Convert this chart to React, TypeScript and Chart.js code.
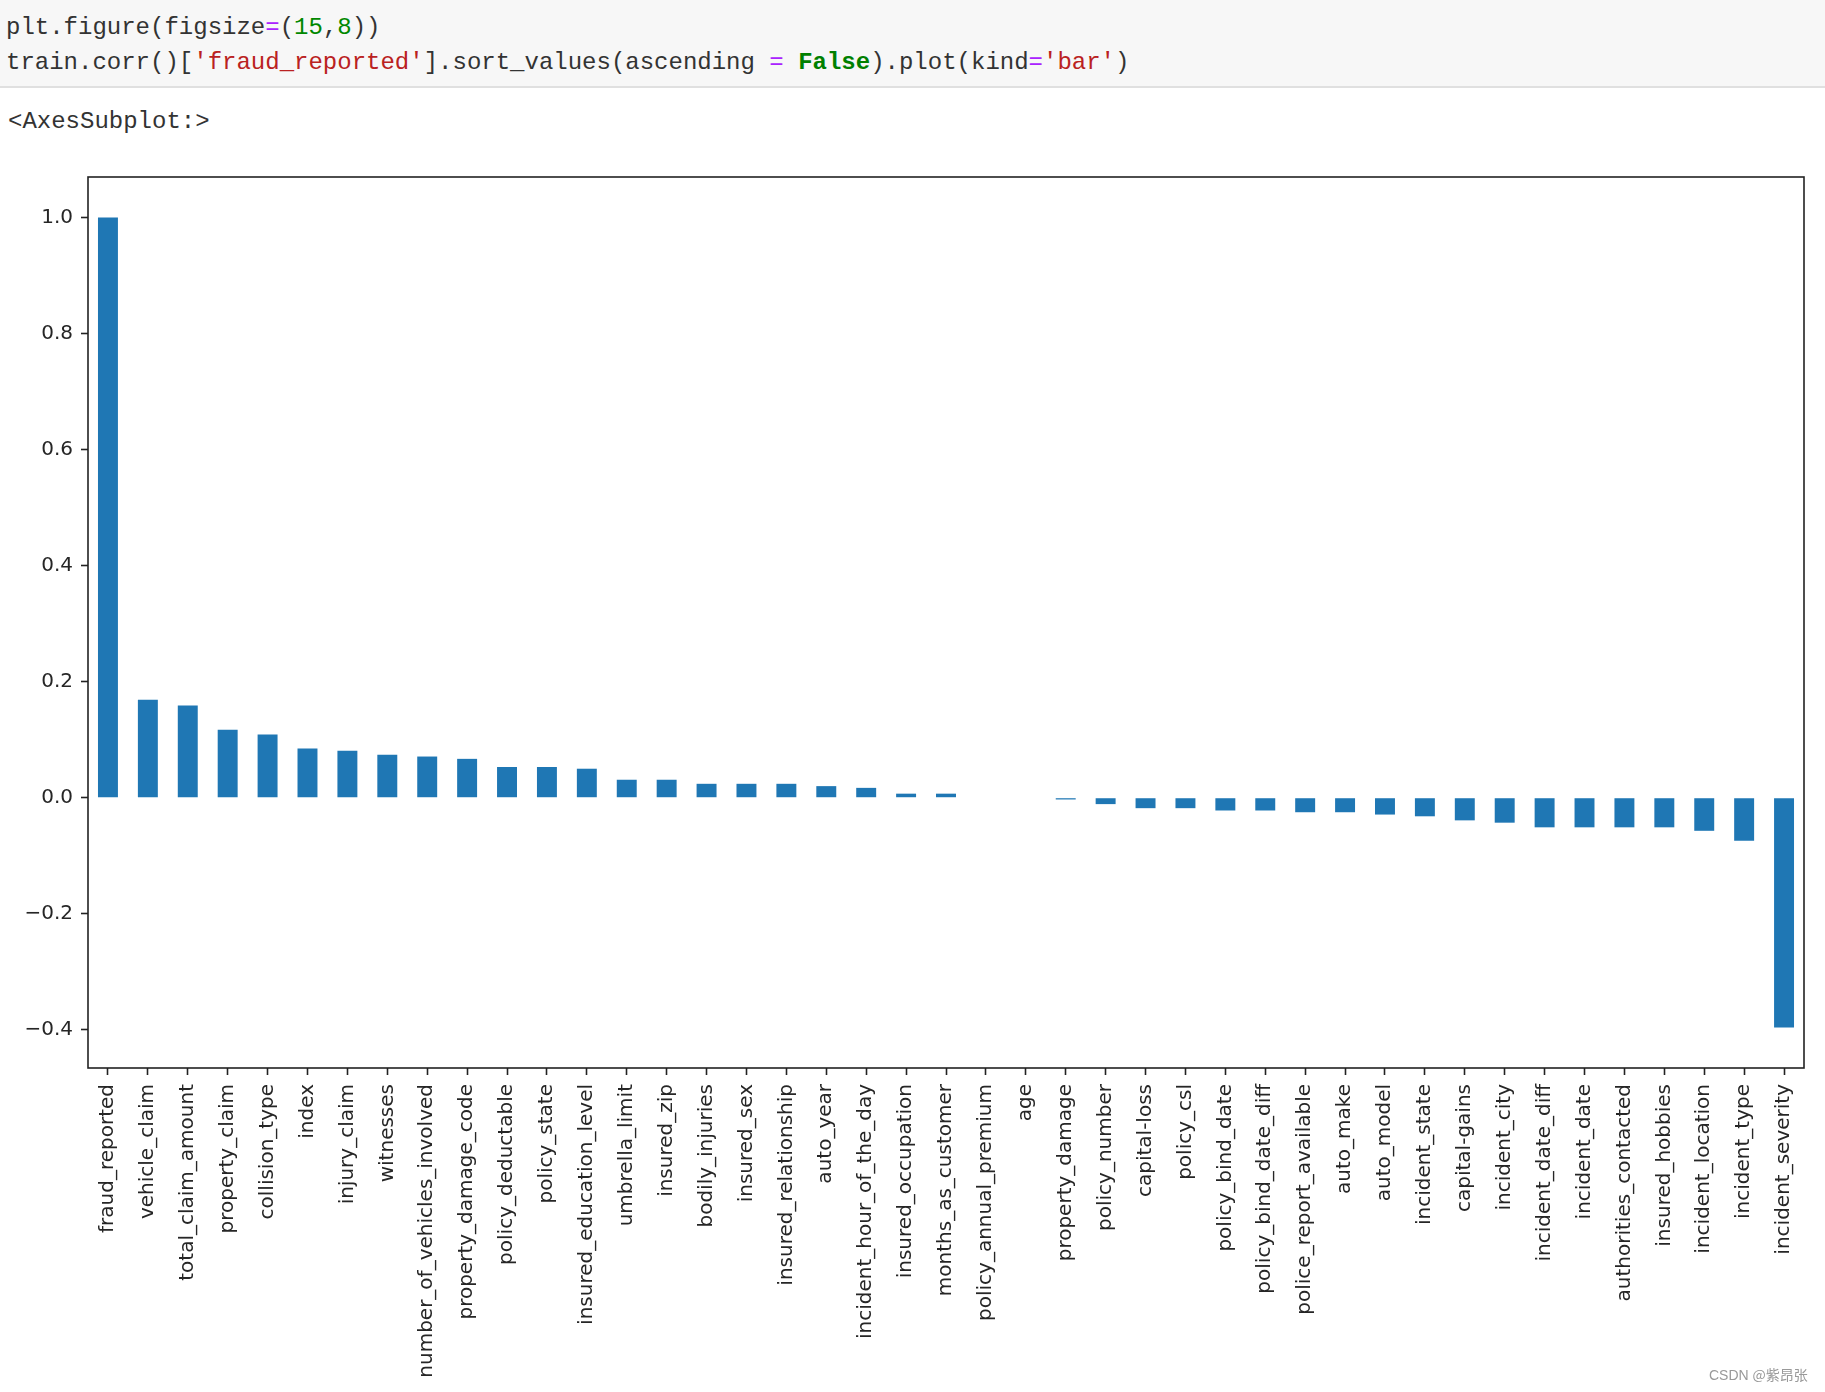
import React, { useEffect, useRef } from "react";
import { Chart, registerables } from "chart.js";

Chart.register(...registerables);

const categories: string[] = [
  "fraud_reported", "vehicle_claim", "total_claim_amount", "property_claim", "collision_type",
  "index", "injury_claim", "witnesses", "number_of_vehicles_involved", "property_damage_code",
  "policy_deductable", "policy_state", "insured_education_level", "umbrella_limit", "insured_zip",
  "bodily_injuries", "insured_sex", "insured_relationship", "auto_year", "incident_hour_of_the_day",
  "insured_occupation", "months_as_customer", "policy_annual_premium", "age", "property_damage",
  "policy_number", "capital-loss", "policy_csl", "policy_bind_date", "policy_bind_date_diff",
  "police_report_available", "auto_make", "auto_model", "incident_state", "capital-gains",
  "incident_city", "incident_date_diff", "incident_date", "authorities_contacted", "insured_hobbies",
  "incident_location", "incident_type", "incident_severity",
];

const correlations: number[] = [
  1.0, 0.169, 0.159, 0.117, 0.109,
  0.085, 0.081, 0.074, 0.071, 0.067,
  0.053, 0.053, 0.05, 0.031, 0.031,
  0.024, 0.024, 0.024, 0.02, 0.017,
  0.007, 0.007, 0.0, 0.0, -0.003,
  -0.011, -0.018, -0.018, -0.022, -0.022,
  -0.025, -0.025, -0.029, -0.032, -0.039,
  -0.043, -0.051, -0.051, -0.051, -0.051,
  -0.057, -0.074, -0.396,
];

const yTickValues: number[] = [-0.4, -0.2, 0.0, 0.2, 0.4, 0.6, 0.8, 1.0];
const yTickLabels: string[] = ["\u22120.4", "\u22120.2", "0.0", "0.2", "0.4", "0.6", "0.8", "1.0"];

const BAR_COLOR = "#1f77b4";
const SPINE_COLOR = "#222";

const boxPlugin = {
  id: "boxPlugin",
  afterDraw(chart: any) {
    const { ctx, chartArea } = chart;
    ctx.save();
    ctx.strokeStyle = SPINE_COLOR;
    ctx.lineWidth = 1.6;
    ctx.strokeRect(chartArea.left, chartArea.top, chartArea.right - chartArea.left, chartArea.bottom - chartArea.top);
    ctx.restore();
  },
};

function BarChart() {
  const ref = useRef<HTMLCanvasElement | null>(null);
  useEffect(() => {
    if (!ref.current) return;
    const dMin = Math.min(...correlations);
    const dMax = Math.max(...correlations);
    const margin = (dMax - dMin) * 0.05;
    const chart = new Chart(ref.current, {
      type: "bar",
      data: {
        labels: categories,
        datasets: [
          {
            data: correlations,
            backgroundColor: BAR_COLOR,
            borderWidth: 0,
            barPercentage: 0.5,
            categoryPercentage: 1.0,
          },
        ],
      },
      options: {
        animation: false,
        responsive: false,
        maintainAspectRatio: false,
        plugins: { legend: { display: false }, tooltip: { enabled: false }, title: { display: false } },
        layout: { padding: { top: 37, right: 21, left: 0, bottom: 0 } },
        scales: {
          x: {
            type: "category",
            offset: true,
            border: { display: false },
            grid: {
              display: true,
              offset: false,
              drawOnChartArea: false,
              drawTicks: true,
              tickLength: 7,
              tickWidth: 1.6,
              tickColor: SPINE_COLOR,
              color: SPINE_COLOR,
            },
            ticks: {
              autoSkip: false,
              maxRotation: 90,
              minRotation: 90,
              padding: 9,
              color: "#262626",
              font: { family: "DejaVu Sans", size: 20 },
            },
            afterFit(scale: any) {
              scale.height = 324;
            },
          },
          y: {
            type: "linear",
            min: dMin - margin,
            max: dMax + margin,
            border: { display: false },
            grid: {
              display: true,
              drawOnChartArea: false,
              drawTicks: true,
              tickLength: 7,
              tickWidth: 1.6,
              tickColor: SPINE_COLOR,
              color: SPINE_COLOR,
            },
            afterBuildTicks(scale: any) {
              scale.ticks = yTickValues.map((v) => ({ value: v }));
            },
            ticks: {
              padding: 8,
              color: "#262626",
              font: { family: "DejaVu Sans", size: 20 },
              callback: (_v: any, i: number) => yTickLabels[i],
            },
            afterFit(scale: any) {
              scale.width = 88;
            },
          },
        },
      },
      plugins: [boxPlugin],
    });
    return () => chart.destroy();
  }, []);
  return <canvas ref={ref} width={1825} height={1252} style={{ width: 1825, height: 1252, display: "block" }} />;
}

export default function App() {
  const mono = { fontFamily: "'Liberation Mono', 'DejaVu Sans Mono', monospace", fontSize: 24 } as const;
  return (
    <div style={{ position: "absolute", left: 0, top: 0, width: 1825, height: 1392, background: "#fff", overflow: "hidden" }}>
      <div
        style={{
          position: "absolute",
          left: 0,
          top: 0,
          width: 1825,
          height: 88,
          background: "#f7f7f7",
          borderBottom: "2px solid #e0e0e0",
          boxSizing: "border-box",
        }}
      >
        <div style={{ ...mono, position: "absolute", left: 6, top: 10, lineHeight: "35px", color: "#333", whiteSpace: "pre" }}>
          <div>
            plt.figure(figsize<span style={{ color: "#aa22ff" }}>=</span>(<span style={{ color: "#080" }}>15</span>,<span style={{ color: "#080" }}>8</span>))
          </div>
          <div>
            train.corr()[<span style={{ color: "#ba2121" }}>'fraud_reported'</span>].sort_values(ascending <span style={{ color: "#aa22ff" }}>=</span>{" "}
            <span style={{ color: "#008000", fontWeight: "bold" }}>False</span>).plot(kind<span style={{ color: "#aa22ff" }}>=</span>
            <span style={{ color: "#ba2121" }}>'bar'</span>)
          </div>
        </div>
      </div>
      <div style={{ ...mono, position: "absolute", left: 8, top: 104, lineHeight: "35px", color: "#333", whiteSpace: "pre" }}>
        {"<AxesSubplot:>"}
      </div>
      <div style={{ position: "absolute", left: 0, top: 140 }}>
        <BarChart />
      </div>
      <div
        style={{
          position: "absolute",
          left: 1709,
          top: 1364,
          fontFamily: "'Liberation Sans', 'Noto Sans CJK SC', sans-serif",
          fontSize: 14,
          color: "#999",
          whiteSpace: "nowrap",
        }}
      >
        CSDN <span style={{ fontFamily: "'Noto Sans CJK SC', sans-serif" }}>@紫昂张</span>
      </div>
    </div>
  );
}
